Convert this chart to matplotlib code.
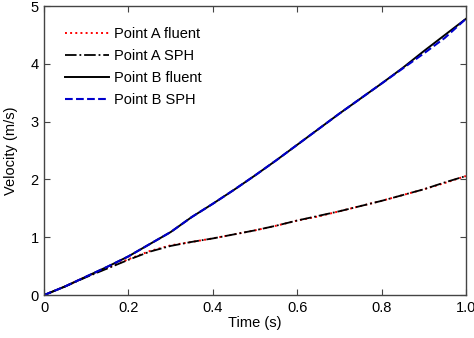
import numpy as np
import matplotlib as mpl
mpl.use('Agg')
import matplotlib.pyplot as plt

# data
time_s = [0.0, 0.05, 0.1, 0.15, 0.2, 0.25, 0.3, 0.35, 0.4, 0.45, 0.5,
          0.55, 0.6, 0.65, 0.7, 0.75, 0.8, 0.85, 0.9, 0.95, 1.0]
a_fluent = [0.0, 0.15, 0.32, 0.47, 0.62, 0.76, 0.86, 0.92, 0.98, 1.05, 1.12,
            1.20, 1.29, 1.36, 1.45, 1.54, 1.63, 1.73, 1.83, 1.94, 2.06]
a_sph = [0.0, 0.15, 0.31, 0.46, 0.61, 0.75, 0.85, 0.92, 0.98, 1.05, 1.12,
         1.20, 1.29, 1.37, 1.45, 1.54, 1.63, 1.73, 1.83, 1.95, 2.06]
b_fluent = [0.0, 0.15, 0.32, 0.49, 0.67, 0.88, 1.09, 1.35, 1.58, 1.82, 2.07,
            2.33, 2.60, 2.87, 3.14, 3.40, 3.66, 3.93, 4.22, 4.50, 4.78]
b_sph = [0.0, 0.15, 0.32, 0.49, 0.67, 0.88, 1.09, 1.35, 1.58, 1.82, 2.07,
         2.33, 2.60, 2.87, 3.14, 3.40, 3.66, 3.92, 4.18, 4.45, 4.78]

plt.rcParams['font.family'] = ['Liberation Sans', 'DejaVu Sans']
plt.rc('font', size=10)

fig = plt.figure(figsize=(4.74, 3.38), dpi=100)
ax = fig.add_axes([0.093, 0.127, 0.890, 0.855])

ax.plot(time_s, a_fluent, color='red', ls=':', lw=1.4, label='Point A fluent')
ax.plot(time_s, a_sph, color='black', ls='-.', lw=1.3, label='Point A SPH')
ax.plot(time_s, b_fluent, color='black', ls='-', lw=1.4, label='Point B fluent')
ax.plot(time_s, b_sph, color='#0000cc', ls='--', lw=1.5, label='Point B SPH')

ax.set_xlim(0, 1)
ax.set_ylim(0, 5)
ax.set_xticks([0, 0.2, 0.4, 0.6, 0.8, 1.0])
ax.set_xticklabels(['0', '0.2', '0.4', '0.6', '0.8', '1.0'])
ax.set_yticks([0, 1, 2, 3, 4, 5])
ax.tick_params(direction='in', top=True, right=True, length=4, width=0.8,
               color='#444444', labelsize=10.5, pad=4)
for sp in ax.spines.values():
    sp.set_color('#444444')
    sp.set_linewidth(1.0)

ax.set_xlabel('Time (s)', fontsize=10.5, labelpad=1)
ax.set_ylabel('Velocity (m/s)', fontsize=10.5, labelpad=9)

ax.legend(loc='upper left', frameon=False, handlelength=3.0,
          handletextpad=0.4, labelspacing=0.55, fontsize=10.5,
          bbox_to_anchor=(0.018, 0.972))

fig.savefig('out.png', dpi=100)
